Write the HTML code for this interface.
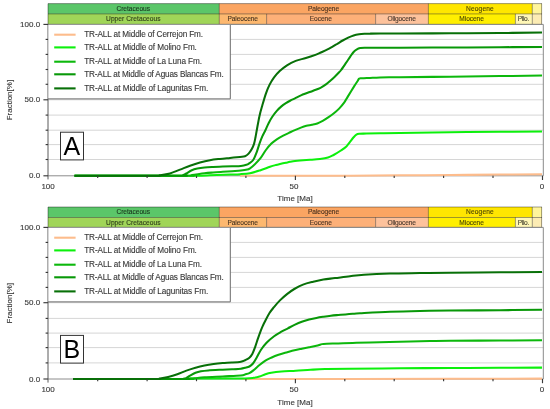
<!DOCTYPE html>
<html lang="en">
<head>
<meta charset="utf-8">
<title>Transformation ratio plots</title>
<style>
html,body{margin:0;padding:0;background:#fff;}
body{width:550px;height:409px;overflow:hidden;font-family:"Liberation Sans",Arial,sans-serif;}
svg{display:block;}
</style>
</head>
<body>
<svg width="550" height="409" viewBox="0 0 550 409" font-family="'Liberation Sans', Arial, sans-serif">
<rect width="550" height="409" fill="#fff"/>
<rect x="48.0" y="3.6" width="171.3" height="10.3" fill="#5bc669"/>
<rect x="219.3" y="3.6" width="209.1" height="10.3" fill="#fba562"/>
<rect x="428.4" y="3.6" width="103.9" height="10.3" fill="#ffe600"/>
<rect x="532.3" y="3.6" width="9.6" height="10.3" fill="#fff59c"/>
<rect x="48.0" y="13.9" width="171.3" height="10.5" fill="#a0d558"/>
<rect x="219.3" y="13.9" width="47.3" height="10.5" fill="#fdb86f"/>
<rect x="266.6" y="13.9" width="109.0" height="10.5" fill="#fdb078"/>
<rect x="375.6" y="13.9" width="52.8" height="10.5" fill="#fdc29c"/>
<rect x="428.4" y="13.9" width="87.0" height="10.5" fill="#ffef00"/>
<rect x="515.4" y="13.9" width="16.9" height="10.5" fill="#fff7b6"/>
<rect x="532.3" y="13.9" width="9.6" height="10.5" fill="#fcecb4"/>
<g stroke="#000" stroke-opacity="0.38" stroke-width="1" fill="none">
<path d="M48.0 3.6H542.0 M48.0 13.9H542.0 M48.0 24.4H542.0"/>
<path d="M219.3 3.6V13.9"/>
<path d="M428.4 3.6V13.9"/>
<path d="M532.3 3.6V13.9"/>
<path d="M219.3 13.9V24.4"/>
<path d="M266.6 13.9V24.4"/>
<path d="M375.6 13.9V24.4"/>
<path d="M428.4 13.9V24.4"/>
<path d="M515.4 13.9V24.4"/>
<path d="M532.3 13.9V24.4"/>
<path d="M48.0 3.6V24.4 M541.6 3.6V24.4"/>
</g>
<g font-size="6.6" fill="#000" fill-opacity="0.7" stroke="#000" stroke-opacity="0.7" stroke-width="0.12" text-anchor="middle">
<text x="133.2" y="11.0" textLength="33.6" lengthAdjust="spacing">Cretaceous</text>
<text x="323.5" y="11.0" textLength="31.2" lengthAdjust="spacing">Paleogene</text>
<text x="479.9" y="11.0" textLength="27.6" lengthAdjust="spacing">Neogene</text>
<text x="133.3" y="21.4" textLength="54.5" lengthAdjust="spacing">Upper Cretaceous</text>
<text x="242.7" y="21.4" textLength="30.6" lengthAdjust="spacing">Paleocene</text>
<text x="320.8" y="21.4" textLength="22.2" lengthAdjust="spacing">Eocene</text>
<text x="401.7" y="21.4" textLength="28.6" lengthAdjust="spacing">Oligocene</text>
<text x="471.6" y="21.4" textLength="24.6" lengthAdjust="spacing">Miocene</text>
<text x="523.5" y="21.4" textLength="11.6" lengthAdjust="spacing">Plio.</text>
</g>
<g stroke="#d6d6d6" stroke-width="1">
<path d="M48.0 159.5H543.3"/>
<path d="M48.0 144.6H543.3"/>
<path d="M48.0 130.2H543.3"/>
<path d="M48.0 115.1H543.3"/>
<path d="M48.0 99.8H543.3"/>
<path d="M48.0 84.3H543.3"/>
<path d="M48.0 69.5H543.3"/>
<path d="M48.0 54.4H543.3"/>
<path d="M48.0 39.4H543.3"/>
</g>
<path d="M48.0 24.4H543.3V175.8" fill="none" stroke="#8a8a8a" stroke-width="1"/>
<path d="M48.0 175.8H543.3" stroke="#8c8c8c" stroke-width="1"/>
<g fill="none" stroke-width="2.05" stroke-linejoin="round" stroke-linecap="butt">
<path d="M240.00 175.80C250.00 175.80 281.67 175.82 300.00 175.80C318.33 175.78 333.33 175.78 350.00 175.70C366.67 175.62 383.33 175.42 400.00 175.30C416.67 175.18 433.33 175.12 450.00 175.00C466.67 174.88 484.67 174.73 500.00 174.60C515.33 174.47 535.00 174.27 542.00 174.20" stroke="#fdbc8c"/>
<path d="M74.50 175.80C93.75 175.80 167.42 175.88 190.00 175.80C212.58 175.72 203.33 175.50 210.00 175.30C216.67 175.10 225.00 174.78 230.00 174.60C235.00 174.42 236.67 174.43 240.00 174.20C243.33 173.97 246.67 173.83 250.00 173.20C253.33 172.57 256.67 171.47 260.00 170.40C263.33 169.33 267.35 167.70 270.00 166.80C272.65 165.90 274.23 165.47 275.90 165.00C277.57 164.53 278.33 164.38 280.00 164.00C281.67 163.62 284.23 163.07 285.90 162.70C287.57 162.33 288.48 162.10 290.00 161.80C291.52 161.50 293.33 161.13 295.00 160.90C296.67 160.67 297.50 160.58 300.00 160.40C302.50 160.22 306.67 160.03 310.00 159.80C313.33 159.57 317.00 159.37 320.00 159.00C323.00 158.63 325.73 158.27 328.00 157.60C330.27 156.93 331.45 156.18 333.60 155.00C335.75 153.82 338.77 151.93 340.90 150.50C343.03 149.07 344.88 147.85 346.40 146.40C347.92 144.95 348.80 143.32 350.00 141.80C351.20 140.28 352.53 138.50 353.60 137.30C354.67 136.10 355.48 135.18 356.40 134.60C357.32 134.02 357.43 133.97 359.10 133.80C360.77 133.63 362.92 133.68 366.40 133.60C369.88 133.52 374.40 133.40 380.00 133.30C385.60 133.20 388.33 133.18 400.00 133.00C411.67 132.82 433.33 132.40 450.00 132.20C466.67 132.00 484.67 131.93 500.00 131.80C515.33 131.67 535.00 131.47 542.00 131.40" stroke="#0cf00c"/>
<path d="M74.50 175.80C92.75 175.80 164.42 175.93 184.00 175.80C203.58 175.67 188.58 175.42 192.00 175.00C195.42 174.58 201.00 173.72 204.50 173.30C208.00 172.88 209.97 172.75 213.00 172.50C216.03 172.25 219.53 172.02 222.70 171.80C225.87 171.58 228.97 171.40 232.00 171.20C235.03 171.00 238.35 170.87 240.90 170.60C243.45 170.33 245.78 169.98 247.30 169.60C248.82 169.22 248.87 169.07 250.00 168.30C251.13 167.53 252.35 166.68 254.10 165.00C255.85 163.32 258.53 160.70 260.50 158.20C262.47 155.70 264.08 152.43 265.90 150.00C267.72 147.57 269.58 145.38 271.40 143.60C273.22 141.82 274.83 140.63 276.80 139.30C278.77 137.97 280.97 136.77 283.20 135.60C285.43 134.43 288.15 133.25 290.20 132.30C292.25 131.35 293.72 130.68 295.50 129.90C297.28 129.12 299.08 128.28 300.90 127.60C302.72 126.92 304.58 126.27 306.40 125.80C308.22 125.33 309.98 125.18 311.80 124.80C313.62 124.42 315.48 124.15 317.30 123.50C319.12 122.85 320.88 121.92 322.70 120.90C324.52 119.88 326.38 118.63 328.20 117.40C330.02 116.17 331.78 114.97 333.60 113.50C335.42 112.03 337.28 110.50 339.10 108.60C340.92 106.70 343.05 104.10 344.50 102.10C345.95 100.10 346.20 99.22 347.80 96.60C349.40 93.98 352.47 89.00 354.10 86.40C355.73 83.80 356.75 82.30 357.60 81.00C358.45 79.70 358.47 79.05 359.20 78.60C359.93 78.15 360.20 78.42 362.00 78.30C363.80 78.18 367.00 78.05 370.00 77.90C373.00 77.75 375.00 77.52 380.00 77.40C385.00 77.28 388.33 77.32 400.00 77.20C411.67 77.08 433.33 76.88 450.00 76.70C466.67 76.52 484.67 76.28 500.00 76.10C515.33 75.92 535.00 75.68 542.00 75.60" stroke="#0cb80c"/>
<path d="M74.50 175.80C91.75 175.80 159.92 175.90 178.00 175.80C196.08 175.70 181.60 175.60 183.00 175.20C184.40 174.80 184.93 174.23 186.40 173.40C187.87 172.57 189.98 171.02 191.80 170.20C193.62 169.38 195.18 168.97 197.30 168.50C199.42 168.03 201.88 167.67 204.50 167.40C207.12 167.13 209.97 167.03 213.00 166.90C216.03 166.77 219.53 166.70 222.70 166.60C225.87 166.50 228.97 166.42 232.00 166.30C235.03 166.18 238.50 166.15 240.90 165.90C243.30 165.65 245.03 165.22 246.40 164.80C247.77 164.38 247.97 164.20 249.10 163.40C250.23 162.60 251.92 161.93 253.20 160.00C254.48 158.07 255.75 154.53 256.80 151.80C257.85 149.07 258.58 146.17 259.50 143.60C260.42 141.03 261.30 138.67 262.30 136.40C263.30 134.13 264.45 132.20 265.50 130.00C266.55 127.80 267.47 125.40 268.60 123.20C269.73 121.00 270.93 118.85 272.30 116.80C273.67 114.75 275.28 112.63 276.80 110.90C278.32 109.17 279.88 107.68 281.40 106.40C282.92 105.12 284.38 104.18 285.90 103.20C287.42 102.22 288.98 101.30 290.50 100.50C292.02 99.70 293.17 99.30 295.00 98.40C296.83 97.50 298.47 96.38 301.50 95.10C304.53 93.82 310.03 91.92 313.20 90.70C316.37 89.48 318.32 88.88 320.50 87.80C322.68 86.72 324.62 85.42 326.30 84.20C327.98 82.98 329.15 81.78 330.60 80.50C332.05 79.22 333.58 77.87 335.00 76.50C336.42 75.13 338.08 73.38 339.10 72.30C340.12 71.22 339.95 71.57 341.10 70.00C342.25 68.43 344.45 65.17 346.00 62.90C347.55 60.63 349.13 58.22 350.40 56.40C351.67 54.58 352.52 53.18 353.60 52.00C354.68 50.82 355.80 49.95 356.90 49.30C358.00 48.65 358.93 48.36 360.20 48.10C361.47 47.84 361.20 47.82 364.50 47.75C367.80 47.68 374.08 47.71 380.00 47.70C385.92 47.69 388.33 47.73 400.00 47.70C411.67 47.67 433.33 47.58 450.00 47.50C466.67 47.42 484.67 47.28 500.00 47.20C515.33 47.12 535.00 47.03 542.00 47.00" stroke="#089808"/>
<path d="M74.50 175.80C87.42 175.80 137.75 175.90 152.00 175.80C166.25 175.70 157.00 175.60 160.00 175.20C163.00 174.80 166.67 174.33 170.00 173.40C173.33 172.47 176.67 170.88 180.00 169.60C183.33 168.32 186.67 166.88 190.00 165.70C193.33 164.52 196.67 163.42 200.00 162.50C203.33 161.58 206.67 160.80 210.00 160.20C213.33 159.60 216.67 159.28 220.00 158.90C223.33 158.52 226.67 158.23 230.00 157.90C233.33 157.57 237.50 157.18 240.00 156.90C242.50 156.62 243.57 156.75 245.00 156.20C246.43 155.65 247.47 154.78 248.60 153.60C249.73 152.42 250.88 150.77 251.80 149.10C252.72 147.43 253.48 145.57 254.10 143.60C254.72 141.63 255.05 139.57 255.50 137.30C255.95 135.03 256.13 133.57 256.80 130.00C257.47 126.43 258.58 119.98 259.50 115.90C260.42 111.82 261.23 109.22 262.30 105.50C263.37 101.78 264.70 97.03 265.90 93.60C267.10 90.17 268.17 87.57 269.50 84.90C270.83 82.23 272.20 79.90 273.90 77.60C275.60 75.30 277.52 73.15 279.70 71.10C281.88 69.05 284.33 67.00 287.00 65.30C289.67 63.60 292.55 62.12 295.70 60.90C298.85 59.68 302.50 59.05 305.90 58.00C309.30 56.95 313.60 55.52 316.10 54.60C318.60 53.68 319.08 53.32 320.90 52.50C322.72 51.68 325.18 50.60 327.00 49.70C328.82 48.80 330.08 48.08 331.80 47.10C333.52 46.12 335.48 44.90 337.30 43.80C339.12 42.70 340.88 41.53 342.70 40.50C344.52 39.47 346.38 38.45 348.20 37.60C350.02 36.75 351.78 35.97 353.60 35.40C355.42 34.83 357.28 34.48 359.10 34.20C360.92 33.93 362.68 33.84 364.50 33.75C366.32 33.66 367.42 33.67 370.00 33.65C372.58 33.62 375.00 33.62 380.00 33.60C385.00 33.58 388.33 33.55 400.00 33.50C411.67 33.45 433.33 33.38 450.00 33.30C466.67 33.22 484.67 33.12 500.00 33.00C515.33 32.88 535.00 32.67 542.00 32.60" stroke="#087008"/>
</g>
<path d="M48.0 24.4V179.4" stroke="#5a5a5a" stroke-width="1"/>
<g stroke="#3a3a3a" stroke-width="1.15">
<path d="M43.4 175.8H48.0"/>
<path d="M45.6 159.5H48.0"/>
<path d="M45.6 144.6H48.0"/>
<path d="M45.6 130.2H48.0"/>
<path d="M45.6 115.1H48.0"/>
<path d="M43.4 99.8H48.0"/>
<path d="M45.6 84.3H48.0"/>
<path d="M45.6 69.5H48.0"/>
<path d="M45.6 54.4H48.0"/>
<path d="M45.6 39.4H48.0"/>
<path d="M43.4 24.4H48.0"/>
<path d="M542.5 175.8V180.0"/>
<path d="M493.0 175.8V178.0"/>
<path d="M443.6 175.8V178.0"/>
<path d="M394.2 175.8V178.0"/>
<path d="M344.8 175.8V178.0"/>
<path d="M295.4 175.8V180.0"/>
<path d="M245.9 175.8V178.0"/>
<path d="M196.5 175.8V178.0"/>
<path d="M147.1 175.8V178.0"/>
<path d="M97.7 175.8V178.0"/>
</g>
<g font-size="8" fill="#383838" stroke="#383838" stroke-width="0.12">
<text x="40.1" y="26.9" text-anchor="end">100.0</text>
<text x="40.1" y="102.2" text-anchor="end">50.0</text>
<text x="40.1" y="178.3" text-anchor="end">0.0</text>
<text x="48.1" y="188.9" text-anchor="middle">100</text>
<text x="294.0" y="188.9" text-anchor="middle">50</text>
<text x="542.0" y="188.9" text-anchor="middle">0</text>
<text x="295.0" y="201.4" text-anchor="middle">Time [Ma]</text>
<text transform="translate(11.5 100.1) rotate(-90)" text-anchor="middle">Fraction[%]</text>
</g>
<rect x="48.5" y="24.9" width="181.8" height="74.0" fill="#fff"/>
<path d="M48.0 98.9H230.3V24.9" fill="none" stroke="#6a6a6a" stroke-width="1"/>
<g font-size="8.2" fill="#383838" stroke="#383838" stroke-width="0.12">
<path d="M54.2 34.7H75.6" stroke="#fdbc8c" stroke-width="2.1"/>
<text x="84.2" y="37.2" textLength="118.9" lengthAdjust="spacing">TR-ALL at Middle of Cerrejon Fm.</text>
<path d="M54.2 47.4H75.6" stroke="#0cf00c" stroke-width="2.1"/>
<text x="84.2" y="49.9" textLength="112.7" lengthAdjust="spacing">TR-ALL at Middle of Molino Fm.</text>
<path d="M54.2 61.7H75.6" stroke="#0cb80c" stroke-width="2.1"/>
<text x="84.2" y="64.2" textLength="117.8" lengthAdjust="spacing">TR-ALL at Middle of La Luna Fm.</text>
<path d="M54.2 74.3H75.6" stroke="#089808" stroke-width="2.1"/>
<text x="84.2" y="76.8" textLength="139.6" lengthAdjust="spacing">TR-ALL at Middle of Aguas Blancas Fm.</text>
<path d="M54.2 88.4H75.6" stroke="#087008" stroke-width="2.1"/>
<text x="84.2" y="90.9" textLength="124.0" lengthAdjust="spacing">TR-ALL at Middle of Lagunitas Fm.</text>
</g>
<rect x="60.5" y="132.2" width="23.0" height="27.7" fill="#fff" stroke="#333" stroke-width="1"/>
<text x="71.8" y="155.2" font-size="25" text-anchor="middle" fill="#000">A</text>
<rect x="48.0" y="207.0" width="171.3" height="10.5" fill="#5bc669"/>
<rect x="219.3" y="207.0" width="209.1" height="10.5" fill="#fba562"/>
<rect x="428.4" y="207.0" width="103.9" height="10.5" fill="#ffe600"/>
<rect x="532.3" y="207.0" width="9.6" height="10.5" fill="#fff59c"/>
<rect x="48.0" y="217.5" width="171.3" height="9.9" fill="#a0d558"/>
<rect x="219.3" y="217.5" width="47.3" height="9.9" fill="#fdb86f"/>
<rect x="266.6" y="217.5" width="109.0" height="9.9" fill="#fdb078"/>
<rect x="375.6" y="217.5" width="52.8" height="9.9" fill="#fdc29c"/>
<rect x="428.4" y="217.5" width="87.0" height="9.9" fill="#ffef00"/>
<rect x="515.4" y="217.5" width="16.9" height="9.9" fill="#fff7b6"/>
<rect x="532.3" y="217.5" width="9.6" height="9.9" fill="#fcecb4"/>
<g stroke="#000" stroke-opacity="0.38" stroke-width="1" fill="none">
<path d="M48.0 207.0H542.0 M48.0 217.5H542.0 M48.0 227.4H542.0"/>
<path d="M219.3 207.0V217.5"/>
<path d="M428.4 207.0V217.5"/>
<path d="M532.3 207.0V217.5"/>
<path d="M219.3 217.5V227.4"/>
<path d="M266.6 217.5V227.4"/>
<path d="M375.6 217.5V227.4"/>
<path d="M428.4 217.5V227.4"/>
<path d="M515.4 217.5V227.4"/>
<path d="M532.3 217.5V227.4"/>
<path d="M48.0 207.0V227.4 M541.6 207.0V227.4"/>
</g>
<g font-size="6.6" fill="#000" fill-opacity="0.7" stroke="#000" stroke-opacity="0.7" stroke-width="0.12" text-anchor="middle">
<text x="133.2" y="214.4" textLength="33.6" lengthAdjust="spacing">Cretaceous</text>
<text x="323.5" y="214.4" textLength="31.2" lengthAdjust="spacing">Paleogene</text>
<text x="479.9" y="214.4" textLength="27.6" lengthAdjust="spacing">Neogene</text>
<text x="133.3" y="225.0" textLength="54.5" lengthAdjust="spacing">Upper Cretaceous</text>
<text x="242.7" y="225.0" textLength="30.6" lengthAdjust="spacing">Paleocene</text>
<text x="320.8" y="225.0" textLength="22.2" lengthAdjust="spacing">Eocene</text>
<text x="401.7" y="225.0" textLength="28.6" lengthAdjust="spacing">Oligocene</text>
<text x="471.6" y="225.0" textLength="24.6" lengthAdjust="spacing">Miocene</text>
<text x="523.5" y="225.0" textLength="11.6" lengthAdjust="spacing">Plio.</text>
</g>
<g stroke="#d6d6d6" stroke-width="1">
<path d="M48.0 362.9H543.3"/>
<path d="M48.0 347.6H543.3"/>
<path d="M48.0 333.1H543.3"/>
<path d="M48.0 318.4H543.3"/>
<path d="M48.0 302.7H543.3"/>
<path d="M48.0 287.4H543.3"/>
<path d="M48.0 272.4H543.3"/>
<path d="M48.0 257.4H543.3"/>
<path d="M48.0 242.4H543.3"/>
</g>
<path d="M48.0 227.4H543.3V379.0" fill="none" stroke="#8a8a8a" stroke-width="1"/>
<path d="M48.0 379.0H543.3" stroke="#8c8c8c" stroke-width="1"/>
<g fill="none" stroke-width="2.05" stroke-linejoin="round" stroke-linecap="butt">
<path d="M242.00 379.00C260.00 379.00 315.33 379.03 350.00 379.00C384.67 378.97 418.00 378.87 450.00 378.80C482.00 378.73 526.67 378.63 542.00 378.60" stroke="#fdbc8c"/>
<path d="M73.00 379.00C91.67 379.00 165.50 379.07 185.00 379.00C204.50 378.93 184.17 378.68 190.00 378.60C195.83 378.52 210.83 378.53 220.00 378.50C229.17 378.47 239.38 378.52 245.00 378.40C250.62 378.28 251.28 378.10 253.70 377.80C256.12 377.50 257.55 377.20 259.50 376.60C261.45 376.00 263.45 374.85 265.40 374.20C267.35 373.55 268.53 373.15 271.20 372.70C273.87 372.25 277.28 371.82 281.40 371.50C285.52 371.18 291.05 371.08 295.90 370.80C300.75 370.52 305.65 370.08 310.50 369.80C315.35 369.52 318.42 369.28 325.00 369.10C331.58 368.92 337.50 368.83 350.00 368.70C362.50 368.57 383.33 368.42 400.00 368.30C416.67 368.18 433.33 368.08 450.00 368.00C466.67 367.92 484.67 367.87 500.00 367.80C515.33 367.73 535.00 367.63 542.00 367.60" stroke="#0cf00c"/>
<path d="M73.00 379.00C91.50 379.00 164.50 379.07 184.00 379.00C203.50 378.93 188.17 378.73 190.00 378.60C191.83 378.47 192.58 378.42 195.00 378.20C197.42 377.98 199.88 377.60 204.50 377.30C209.12 377.00 216.63 376.70 222.70 376.40C228.77 376.10 237.18 375.83 240.90 375.50C244.62 375.17 243.58 374.80 245.00 374.40C246.42 374.00 247.95 373.82 249.40 373.10C250.85 372.38 252.02 371.45 253.70 370.10C255.38 368.75 257.55 366.58 259.50 365.00C261.45 363.42 263.45 361.82 265.40 360.60C267.35 359.38 269.02 358.67 271.20 357.70C273.38 356.73 275.82 355.72 278.50 354.80C281.18 353.88 284.63 352.97 287.30 352.20C289.97 351.43 292.08 350.78 294.50 350.20C296.92 349.62 299.37 349.18 301.80 348.70C304.23 348.22 306.67 347.78 309.10 347.30C311.53 346.82 314.47 346.27 316.40 345.80C318.33 345.33 319.50 344.82 320.70 344.50C321.90 344.18 320.68 344.08 323.60 343.90C326.52 343.72 333.35 343.57 338.20 343.40C343.05 343.23 347.40 343.07 352.70 342.90C358.00 342.73 362.12 342.60 370.00 342.40C377.88 342.20 390.00 341.92 400.00 341.70C410.00 341.48 421.67 341.25 430.00 341.10C438.33 340.95 438.33 340.90 450.00 340.80C461.67 340.70 484.67 340.60 500.00 340.50C515.33 340.40 535.00 340.25 542.00 340.20" stroke="#0cb80c"/>
<path d="M73.00 379.00C90.83 379.00 161.50 379.07 180.00 379.00C198.50 378.93 182.92 378.80 184.00 378.60C185.08 378.40 185.50 378.30 186.50 377.80C187.50 377.30 188.50 376.43 190.00 375.60C191.50 374.77 193.68 373.52 195.50 372.80C197.32 372.08 198.78 371.70 200.90 371.30C203.02 370.90 204.57 370.67 208.20 370.40C211.83 370.13 218.73 369.88 222.70 369.70C226.67 369.52 228.97 369.47 232.00 369.30C235.03 369.13 238.73 368.95 240.90 368.70C243.07 368.45 243.58 368.17 245.00 367.80C246.42 367.43 248.07 367.22 249.40 366.50C250.73 365.78 251.80 364.97 253.00 363.50C254.20 362.03 255.27 360.00 256.60 357.70C257.93 355.40 259.30 352.23 261.00 349.70C262.70 347.17 264.62 344.75 266.80 342.50C268.98 340.25 271.67 338.00 274.10 336.20C276.53 334.40 279.10 333.02 281.40 331.70C283.70 330.38 285.72 329.43 287.90 328.30C290.08 327.17 292.18 325.98 294.50 324.90C296.82 323.82 299.37 322.68 301.80 321.80C304.23 320.92 306.67 320.25 309.10 319.60C311.53 318.95 313.98 318.38 316.40 317.90C318.82 317.42 321.18 317.07 323.60 316.70C326.02 316.33 328.47 315.98 330.90 315.70C333.33 315.42 335.77 315.22 338.20 315.00C340.63 314.78 343.08 314.60 345.50 314.40C347.92 314.20 350.28 313.98 352.70 313.80C355.12 313.62 353.78 313.63 360.00 313.30C366.22 312.97 380.00 312.18 390.00 311.80C400.00 311.42 410.00 311.20 420.00 311.00C430.00 310.80 436.67 310.73 450.00 310.60C463.33 310.47 484.67 310.33 500.00 310.20C515.33 310.07 535.00 309.87 542.00 309.80" stroke="#089808"/>
<path d="M73.00 379.00C86.17 379.00 137.50 379.10 152.00 379.00C166.50 378.90 157.30 378.75 160.00 378.40C162.70 378.05 165.32 377.60 168.20 376.90C171.08 376.20 174.27 375.25 177.30 374.20C180.33 373.15 183.37 371.68 186.40 370.60C189.43 369.52 192.48 368.55 195.50 367.70C198.52 366.85 201.48 366.12 204.50 365.50C207.52 364.88 210.57 364.40 213.60 364.00C216.63 363.60 219.67 363.33 222.70 363.10C225.73 362.87 228.77 362.83 231.80 362.60C234.83 362.37 238.70 362.10 240.90 361.70C243.10 361.30 243.58 360.87 245.00 360.20C246.42 359.53 248.18 358.72 249.40 357.70C250.62 356.68 251.33 355.92 252.30 354.10C253.27 352.28 254.23 349.47 255.20 346.80C256.17 344.13 257.13 340.88 258.10 338.10C259.07 335.32 260.15 332.28 261.00 330.10C261.85 327.92 262.50 326.52 263.20 325.00C263.90 323.48 264.15 323.00 265.20 321.00C266.25 319.00 268.05 315.30 269.50 313.00C270.95 310.70 272.20 309.27 273.90 307.20C275.60 305.13 277.52 302.78 279.70 300.60C281.88 298.42 284.57 296.03 287.00 294.10C289.43 292.17 291.63 290.58 294.30 289.00C296.97 287.42 299.85 285.82 303.00 284.60C306.15 283.38 309.80 282.55 313.20 281.70C316.60 280.85 319.77 280.10 323.40 279.50C327.03 278.90 330.57 278.65 335.00 278.10C339.43 277.55 345.17 276.75 350.00 276.20C354.83 275.65 357.33 275.23 364.00 274.80C370.67 274.37 380.67 273.88 390.00 273.60C399.33 273.32 410.00 273.25 420.00 273.10C430.00 272.95 436.67 272.83 450.00 272.70C463.33 272.57 484.67 272.42 500.00 272.30C515.33 272.18 535.00 272.05 542.00 272.00" stroke="#087008"/>
</g>
<path d="M48.0 227.4V382.6" stroke="#5a5a5a" stroke-width="1"/>
<g stroke="#3a3a3a" stroke-width="1.15">
<path d="M43.4 379.0H48.0"/>
<path d="M45.6 362.9H48.0"/>
<path d="M45.6 347.6H48.0"/>
<path d="M45.6 333.1H48.0"/>
<path d="M45.6 318.4H48.0"/>
<path d="M43.4 302.7H48.0"/>
<path d="M45.6 287.4H48.0"/>
<path d="M45.6 272.4H48.0"/>
<path d="M45.6 257.4H48.0"/>
<path d="M45.6 242.4H48.0"/>
<path d="M43.4 227.4H48.0"/>
<path d="M542.5 379.0V383.2"/>
<path d="M493.0 379.0V381.2"/>
<path d="M443.6 379.0V381.2"/>
<path d="M394.2 379.0V381.2"/>
<path d="M344.8 379.0V381.2"/>
<path d="M295.4 379.0V383.2"/>
<path d="M245.9 379.0V381.2"/>
<path d="M196.5 379.0V381.2"/>
<path d="M147.1 379.0V381.2"/>
<path d="M97.7 379.0V381.2"/>
</g>
<g font-size="8" fill="#383838" stroke="#383838" stroke-width="0.12">
<text x="40.1" y="229.9" text-anchor="end">100.0</text>
<text x="40.1" y="305.2" text-anchor="end">50.0</text>
<text x="40.1" y="381.5" text-anchor="end">0.0</text>
<text x="48.1" y="392.1" text-anchor="middle">100</text>
<text x="294.0" y="392.1" text-anchor="middle">50</text>
<text x="542.0" y="392.1" text-anchor="middle">0</text>
<text x="295.0" y="404.6" text-anchor="middle">Time [Ma]</text>
<text transform="translate(11.5 303.2) rotate(-90)" text-anchor="middle">Fraction[%]</text>
</g>
<rect x="48.5" y="227.9" width="181.8" height="74.0" fill="#fff"/>
<path d="M48.0 301.9H230.3V227.9" fill="none" stroke="#6a6a6a" stroke-width="1"/>
<g font-size="8.2" fill="#383838" stroke="#383838" stroke-width="0.12">
<path d="M54.2 237.7H75.6" stroke="#fdbc8c" stroke-width="2.1"/>
<text x="84.2" y="240.2" textLength="118.9" lengthAdjust="spacing">TR-ALL at Middle of Cerrejon Fm.</text>
<path d="M54.2 250.4H75.6" stroke="#0cf00c" stroke-width="2.1"/>
<text x="84.2" y="252.9" textLength="112.7" lengthAdjust="spacing">TR-ALL at Middle of Molino Fm.</text>
<path d="M54.2 264.7H75.6" stroke="#0cb80c" stroke-width="2.1"/>
<text x="84.2" y="267.2" textLength="117.8" lengthAdjust="spacing">TR-ALL at Middle of La Luna Fm.</text>
<path d="M54.2 277.3H75.6" stroke="#089808" stroke-width="2.1"/>
<text x="84.2" y="279.8" textLength="139.6" lengthAdjust="spacing">TR-ALL at Middle of Aguas Blancas Fm.</text>
<path d="M54.2 291.4H75.6" stroke="#087008" stroke-width="2.1"/>
<text x="84.2" y="293.9" textLength="124.0" lengthAdjust="spacing">TR-ALL at Middle of Lagunitas Fm.</text>
</g>
<rect x="60.5" y="335.4" width="23.0" height="27.7" fill="#fff" stroke="#333" stroke-width="1"/>
<text x="71.8" y="358.4" font-size="25" text-anchor="middle" fill="#000">B</text>
</svg>
</body>
</html>
